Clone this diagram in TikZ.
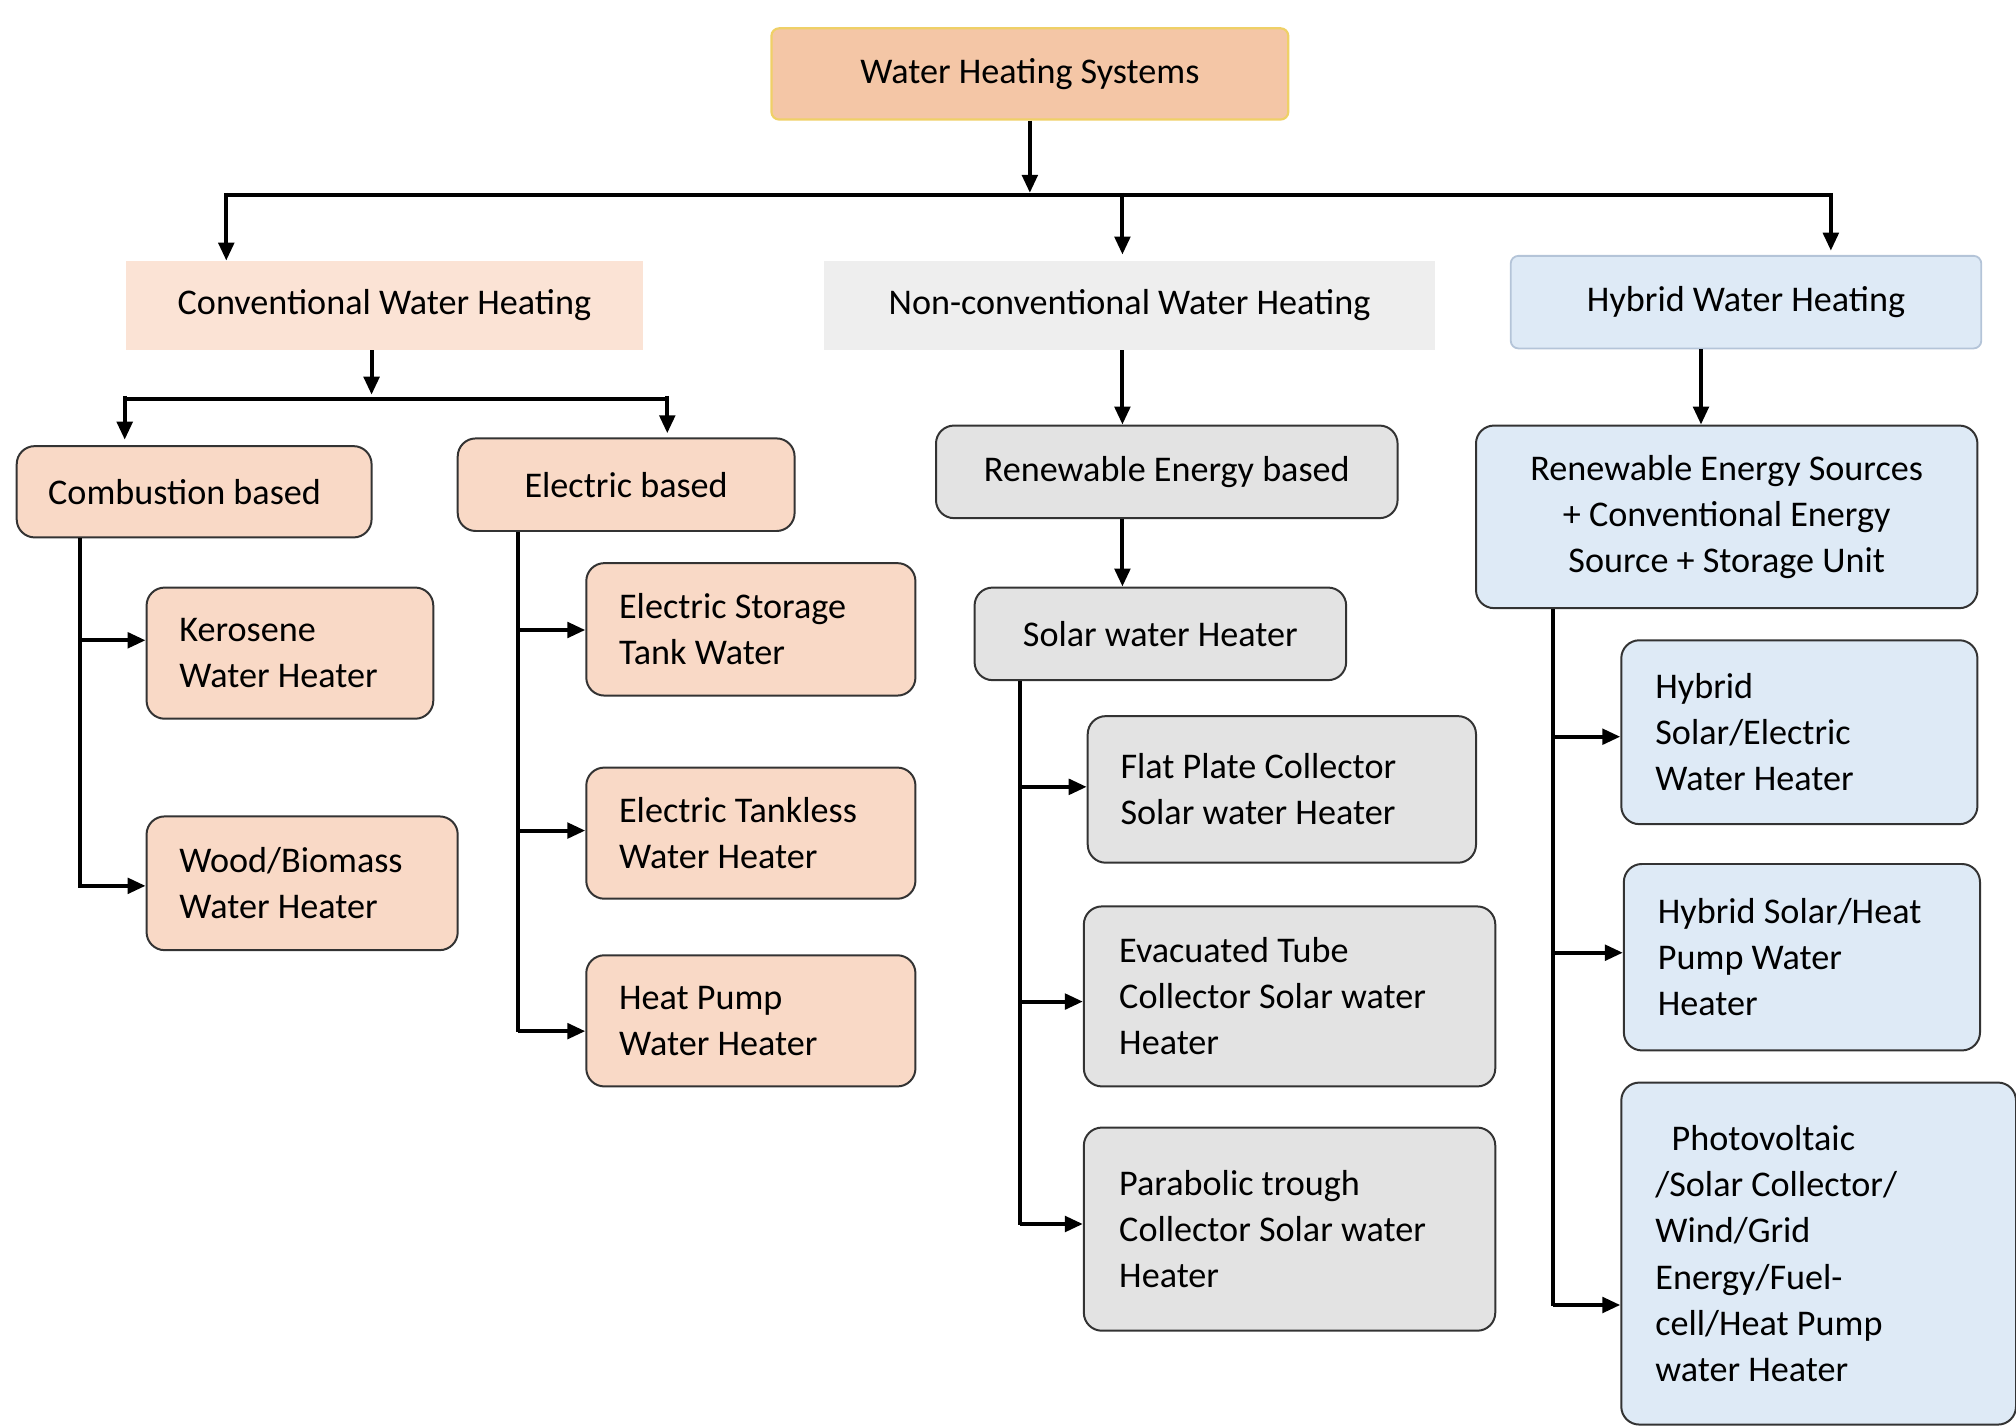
\documentclass[tikz,border=0pt]{standalone}
\usepackage{fontspec}
\setmainfont{Carlito}
\usetikzlibrary{fit,calc,arrows.meta}
\definecolor{peach}{HTML}{F9D9C6}
\definecolor{peachh}{HTML}{FBE3D5}
\definecolor{topf}{HTML}{F4C6A6}
\definecolor{topb}{HTML}{EFD067}
\definecolor{grayf}{HTML}{E3E3E3}
\definecolor{grayh}{HTML}{EEEEEE}
\definecolor{bluef}{HTML}{DEEAF6}
\definecolor{blueb}{HTML}{B4C4D8}
\tikzset{
  x=0.025cm,y=-0.025cm,
  base/.style={inner sep=0pt},
  rbox/.style={base,draw=black!80,line width=1.1pt,rounded corners=0.35cm},
  pbox/.style={rbox,fill=peach},
  gbox/.style={rbox,fill=grayf},
  bbox/.style={rbox,fill=bluef},
  txt/.style={inner sep=0pt,font=\fontsize{20}{25.5}\selectfont,align=left},
  ctxt/.style={inner sep=0pt,font=\fontsize{20}{25.5}\selectfont,align=center},
  arr/.style={line width=2.2pt,-{Triangle[length=0.35cm,width=0.3cm]}},
  ln/.style={line width=2.2pt},
}
\newcommand{\bx}[8]{% name x1 y1 x2 y2 style pad text
  \node[fit={(#2,#3)(#4,#5)},#6] (#1) {};
  \node[txt,anchor=west] (#1-t) at ($(#1.west)+(#7,0)$) {#8};}
\newcommand{\cbx}[7]{% centered
  \node[fit={(#2,#3)(#4,#5)},#6] (#1) {};
  \node[ctxt] (#1-t) at (#1.center) {#7};}
\begin{document}
\begin{tikzpicture}
\useasboundingbox (0,0) rectangle (1568,1109);
\cbx{top}{600}{22}{1002}{93}{base,draw=topb,line width=1.2pt,rounded corners=0.15cm,fill=topf}{Water Heating Systems}
\cbx{conv}{98}{203}{500}{272}{base,fill=peachh}{Conventional Water Heating}
\cbx{nonc}{641}{203}{1116}{272}{base,fill=grayh}{Non-conventional Water Heating}
\cbx{hyb}{1175}{199}{1541}{271}{base,fill=bluef,draw=blueb,line width=1pt,rounded corners=0.15cm}{Hybrid Water Heating}
\bx{comb}{13}{347}{289}{418}{pbox}{25}{Combustion based}
\cbx{elec}{356}{341}{618}{413}{pbox}{Electric based}
\cbx{ren}{728}{331}{1087}{403}{gbox}{Renewable Energy based}
\cbx{sol}{758}{457}{1047}{529}{gbox}{Solar water Heater}
\cbx{res}{1148}{331}{1538}{473}{bbox}{Renewable Energy Sources\\+ Conventional Energy\\Source + Storage Unit}
\bx{ker}{114}{457}{337}{559}{pbox}{26}{Kerosene\\Water Heater}
\bx{wood}{114}{635}{356}{739}{pbox}{26}{Wood/Biomass\\Water Heater}
\bx{est}{456}{438}{712}{541}{pbox}{26}{Electric Storage\\Tank Water}
\bx{etl}{456}{597}{712}{699}{pbox}{26}{Electric Tankless\\Water Heater}
\bx{ehp}{456}{743}{712}{845}{pbox}{26}{Heat Pump\\Water Heater}
\bx{flat}{846}{557}{1148}{671}{gbox}{26}{Flat Plate Collector\\Solar water Heater}
\bx{evac}{843}{705}{1163}{845}{gbox}{28}{Evacuated Tube\\Collector Solar water\\Heater}
\bx{para}{843}{877}{1163}{1035}{gbox}{28}{Parabolic trough\\Collector Solar water\\Heater}
\bx{hse}{1261}{498}{1538}{641}{bbox}{27}{Hybrid\\Solar/Electric\\Water Heater}
\bx{hhp}{1263}{672}{1540}{817}{bbox}{27}{Hybrid Solar/Heat\\Pump Water\\Heater}
\bx{pv}{1261}{842}{1568}{1108}{bbox}{27}{\ \ Photovoltaic\\/Solar Collector/\\Wind/Grid\\Energy/Fuel-\\cell/Heat Pump\\water Heater}
% top level
\coordinate (hb) at (801,152);
\draw[arr] (top.south) -- (801,150);
\draw[ln] (176,152) -- (1424,152);
\draw[arr] (176,150) -- (conv.north -| 176,0);
\draw[arr] (873,150) -- (873,198);
\draw[arr] (1424,150) -- (1424,195);
% conventional
\draw[arr] (conv.south -| 289,0) -- (289,307);
\draw[ln] (97,310) -- (519,310);
\draw[arr] (97,308) -- (97,342);
\draw[arr] (519,308) -- (519,337);
\coordinate (ct) at (62,0);
\draw[ln] (comb.south -| ct) -- (62,691);
\draw[arr] (62,498) -- (ker.west |- 0,498);
\draw[arr] (62,689) -- (wood.west |- 0,689);
\coordinate (et) at (403,0);
\draw[ln] (elec.south -| et) -- (403,803);
\draw[arr] (403,490) -- (est.west |- 0,490);
\draw[arr] (403,646) -- (etl.west |- 0,646);
\draw[arr] (403,802) -- (ehp.west |- 0,802);
% non-conventional
\draw[arr] (nonc.south -| 873,0) -- (ren.north -| 873,0);
\draw[arr] (ren.south -| 873,0) -- (sol.north -| 873,0);
\draw[ln] (sol.south -| 793,0) -- (793,953);
\draw[arr] (793,612) -- (flat.west |- 0,612);
\draw[arr] (793,779) -- (evac.west |- 0,779);
\draw[arr] (793,952) -- (para.west |- 0,952);
% hybrid
\draw[arr] (hyb.south -| 1323,0) -- (res.north -| 1323,0);
\draw[ln] (res.south -| 1208,0) -- (1208,1016);
\draw[arr] (1208,573) -- (hse.west |- 0,573);
\draw[arr] (1208,741) -- (hhp.west |- 0,741);
\draw[arr] (1208,1015) -- (pv.west |- 0,1015);
\end{tikzpicture}
\end{document}
